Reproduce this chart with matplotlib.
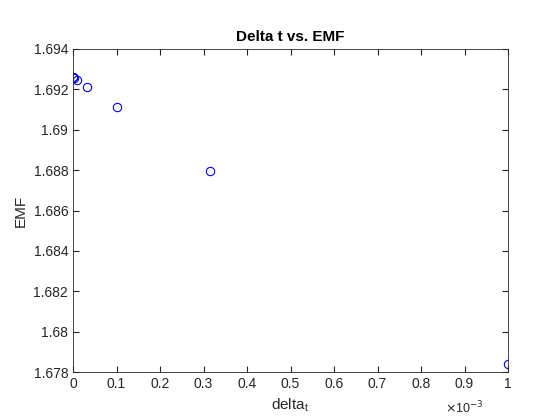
import numpy as np
import matplotlib.pyplot as plt

plt.rcParams['font.family'] = ['Liberation Sans', 'DejaVu Sans']

# time step (in units of 1e-3) and resulting EMF
delta_t = [0.0001, 0.001, 0.00316, 0.01, 0.0316, 0.1, 0.316, 1.0]
emf = [1.69262, 1.69261, 1.69258, 1.69245, 1.69213, 1.69111, 1.68797, 1.67842]

fig = plt.figure(figsize=[5.6, 4.2], dpi=100)
ax = fig.add_axes([73/560, 48/420, 435/560, 323/420])
ax.plot(delta_t, emf, 'o', mfc='none', mec='blue', ms=6, mew=0.8)

ax.set_xlim(0, 1)
ax.set_ylim(1.678, 1.694)
ax.set_xticks(np.arange(0, 1.01, 0.1))
ax.set_xticklabels(['0', '0.1', '0.2', '0.3', '0.4', '0.5', '0.6', '0.7', '0.8', '0.9', '1'])
yt = np.arange(1.678, 1.6941, 0.002)
ax.set_yticks(yt)
ax.set_yticklabels(['%g' % round(v, 3) for v in yt])
ax.tick_params(direction='in', length=4, labelsize=10, colors='#262626', top=True, right=True)
for s in ax.spines.values():
    s.set_color('#262626'); s.set_linewidth(0.6)

ax.set_xlabel(r'delta$_\mathregular{t}$', fontsize=11, color='#262626')
ax.set_ylabel('EMF', fontsize=11, color='#262626')
ax.set_title('Delta t vs. EMF', fontsize=11, fontweight='bold', color='black')
fig.text(0.795, 0.015, r'$\times$10$^{-3}$', fontsize=9, color='#262626', ha='left')

fig.savefig('out.png')
